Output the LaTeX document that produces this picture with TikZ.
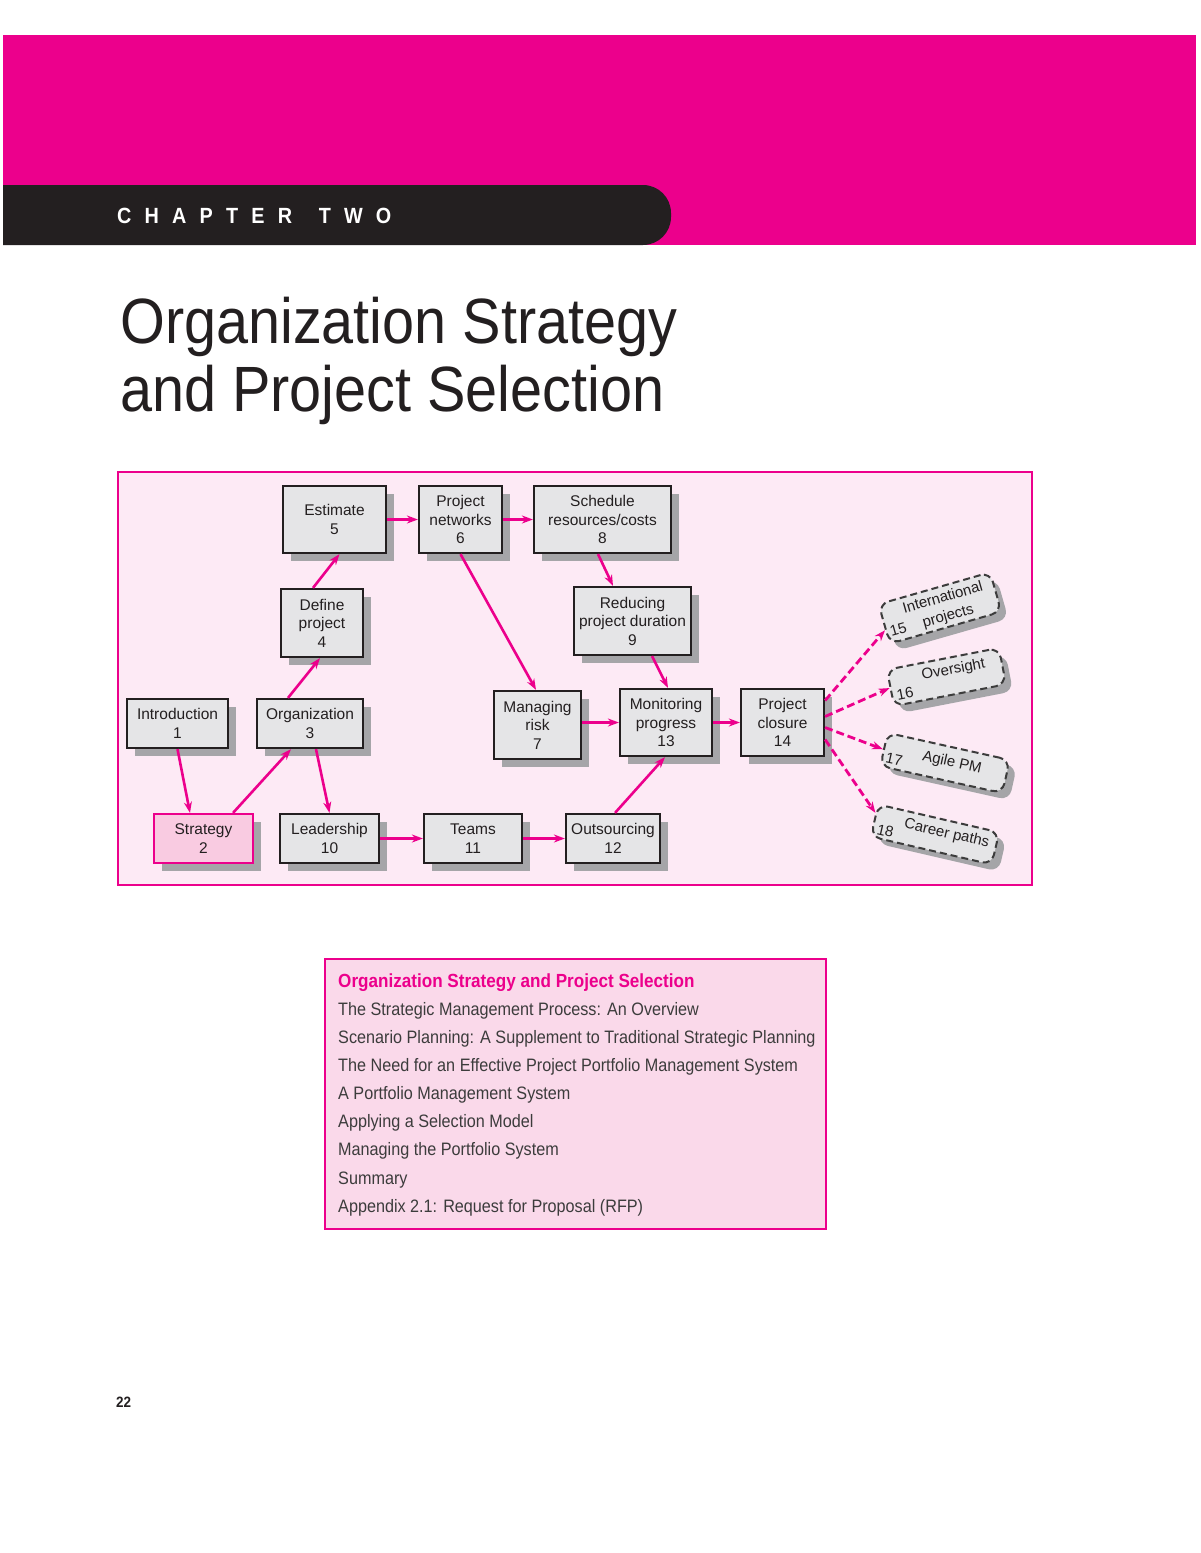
\documentclass[tikz,border=0pt]{standalone}
\usepackage{fontspec}
\setmainfont{Liberation Sans}
\newfontfamily\cond[FakeStretch=0.9]{Liberation Sans}
\usetikzlibrary{arrows.meta,shadows,calc}
\definecolor{mag}{RGB}{236,0,140}
\definecolor{hdrblack}{RGB}{35,31,32}
\definecolor{diagbg}{RGB}{253,234,245}
\definecolor{boxfill}{RGB}{229,229,231}
\definecolor{shadowgray}{RGB}{165,165,168}
\definecolor{strpink}{RGB}{249,203,225}
\definecolor{tocbg}{RGB}{250,217,234}
\definecolor{txt}{RGB}{35,31,32}
\definecolor{tocgray}{RGB}{60,60,60}
\definecolor{dashgray}{RGB}{60,60,60}
\begin{document}
\begin{tikzpicture}[x=1pt,y=-1pt,
  pbox/.style={draw=txt, line width=2.2pt, fill=boxfill, inner sep=0pt, align=center, text=txt,
    font=\fontsize{15.5}{18.5}\selectfont,
    drop shadow={shadow xshift=8pt, shadow yshift=-8pt, fill=shadowgray, opacity=1}},
  dbox/.style={draw=dashgray, line width=2pt, dash pattern=on 7pt off 4pt, fill=boxfill,
    rounded corners=10pt, inner sep=0pt,
    drop shadow={shadow xshift=7pt, shadow yshift=-7pt, fill=shadowgray, opacity=1}},
  dtext/.style={inner sep=0pt, align=center, text=txt, font=\fontsize{15}{19}\selectfont},
  arr/.style={draw=mag, line width=2.6pt, -{Stealth[length=11pt,width=8pt]}},
  darr/.style={draw=mag, line width=2.8pt, dash pattern=on 8pt off 4pt, -{Stealth[length=11pt,width=8pt]}},
  tocline/.style={anchor=base west, inner sep=0pt, text=tocgray, font=\cond\fontsize{18}{18}\selectfont}
]
\useasboundingbox (0,0) rectangle (1200,1553);
\fill[white] (0,0) rectangle (1200,1553);

% header
\fill[mag] (3,35) rectangle (1196,245);
\begin{scope}
  \clip (3,0) rectangle (1200,300);
  \fill[hdrblack, rounded corners=28pt] (-40,185) rectangle (671,245);
\end{scope}
\node[anchor=base west, inner sep=0pt, text=white,
  font=\cond\bfseries\fontsize{22}{22}\selectfont\addfontfeature{LetterSpace=60}] (chap) at (117,223) {CHAPTER\hspace{8pt} TWO};

% title
\node[anchor=base west, inner sep=0pt, text=txt, font=\cond\fontsize{64}{68}\selectfont] (t1) at (120,343) {Organization Strategy};
\node[anchor=base west, inner sep=0pt, text=txt, font=\cond\fontsize{64}{68}\selectfont] (t2) at (120,411) {and Project Selection};

% diagram frame
\draw[mag, line width=2pt, fill=diagbg] (118,472) rectangle (1032,885);

% boxes
\node[pbox, minimum width=101pt, minimum height=49pt] (n1) at (177.5,723.5) {Introduction\\1};
\node[pbox, draw=mag, fill=strpink, minimum width=99pt, minimum height=49pt] (n2) at (203.5,838.5) {Strategy\\2};
\node[pbox, minimum width=106pt, minimum height=49pt] (n3) at (310,723.5) {Organization\\3};
\node[pbox, minimum width=82pt, minimum height=68pt] (n4) at (322,623) {Define\\project\\4};
\node[pbox, minimum width=103pt, minimum height=67pt] (n5) at (334.5,519.5) {Estimate\\5};
\node[pbox, minimum width=83pt, minimum height=67pt] (n6) at (460.5,519.5) {Project\\networks\\6};
\node[pbox, minimum width=87pt, minimum height=68pt] (n7) at (537.5,725) {Managing\\risk\\7};
\node[pbox, minimum width=137pt, minimum height=67pt] (n8) at (602.5,519.5) {Schedule\\resources/costs\\8};
\node[pbox, minimum width=117pt, minimum height=68pt] (n9) at (632.5,621) {Reducing\\project duration\\9};
\node[pbox, minimum width=99pt, minimum height=49pt] (n10) at (329.5,838.5) {Leadership\\10};
\node[pbox, minimum width=98pt, minimum height=49pt] (n11) at (473,838.5) {Teams\\11};
\node[pbox, minimum width=94pt, minimum height=49pt] (n12) at (613,838.5) {Outsourcing\\12};
\node[pbox, minimum width=92pt, minimum height=67pt] (n13) at (666,722.5) {Monitoring\\progress\\13};
\node[pbox, minimum width=83pt, minimum height=67pt] (n14) at (782.5,722.5) {Project\\closure\\14};

% dashed boxes
\begin{scope}[shift={(940,608)}, rotate=16, transform shape]
  \node[dbox, minimum width=116pt, minimum height=41pt] (d15) at (0,0) {};
  \node[dtext] (d15t) at (5.5,1) {International\\\makebox[0pt][r]{15\hspace{17pt}}projects};
\end{scope}
\begin{scope}[shift={(946.5,677)}, rotate=11, transform shape]
  \node[dbox, minimum width=114pt, minimum height=37pt] (d16) at (0,0) {};
  \node[dtext] (d16t) at (8.2,-5.5) {\makebox[0pt][r]{\smash{\raisebox{-15.4pt}{16}}\hspace{11.6pt}}Oversight};
\end{scope}
\begin{scope}[shift={(945,763)}, rotate=-12.5, transform shape]
  \node[dbox, minimum width=125pt, minimum height=34pt] (d17) at (0,0) {};
  \node[dtext] (d17t) at (6.8,-1.5) {\makebox[0pt][r]{\smash{\raisebox{-10.3pt}{17}}\hspace{18.8pt}}Agile PM};
\end{scope}
\begin{scope}[shift={(935,834.5)}, rotate=-13, transform shape]
  \node[dbox, minimum width=124pt, minimum height=33pt] (d18) at (0,0) {};
  \node[dtext] (d18t) at (11.2,-3.3) {\makebox[0pt][r]{\smash{\raisebox{-12.3pt}{18}}\hspace{8.7pt}}Career paths};
\end{scope}

% solid arrows
\draw[arr] (n5.east) -- (n6.west);
\draw[arr] (n6.east) -- (n8.west);
\draw[arr] ([xshift=-9pt]n4.north) -- ([xshift=5pt]n5.south);
\draw[arr] ([xshift=-22pt]n3.north) -- ([xshift=-2pt]n4.south);
\draw[arr] (n1.south) -- ([xshift=-13.5pt]n2.north);
\draw[arr] ([xshift=29.5pt]n2.north) -- ([xshift=-19pt]n3.south);
\draw[arr] ([xshift=6pt]n3.south) -- (n10.north);
\draw[arr] (n10.east) -- (n11.west);
\draw[arr] (n11.east) -- (n12.west);
\draw[arr] ([xshift=2pt]n12.north) -- ([xshift=-1pt]n13.south);
\draw[arr] (n6.south) -- ([xshift=-1.5pt]n7.north);
\draw[arr] ([xshift=-4.5pt]n8.south) -- ([xshift=-19.5pt]n9.north);
\draw[arr] ([xshift=19.5pt]n9.south) -- ([xshift=2pt]n13.north);
\draw[arr] (n7.east |- n13.west) -- (n13.west);
\draw[arr] (n13.east) -- (n14.west);

% dashed arrows
\draw[darr] ([yshift=22pt]n14.east) -- (d15.186);
\draw[darr] ([yshift=6pt]n14.east) -- (d16.west);
\draw[darr] ([yshift=-5pt]n14.east) -- (d17.west);
\draw[darr] ([yshift=-17pt]n14.east) -- (d18.173);

% contents box
\draw[mag, line width=2pt, fill=tocbg] (325,959) rectangle (826,1229);
\node[anchor=base west, inner sep=0pt, text=mag, font=\cond\bfseries\fontsize{19}{19}\selectfont] (th) at (338,987) {Organization Strategy and Project Selection};
\node[tocline] (l1) at (338,1015.7) {The Strategic Management Process: An Overview};
\node[tocline] (l2) at (338,1043.75) {Scenario Planning: A Supplement to Traditional Strategic Planning};
\node[tocline] (l3) at (338,1071.8) {The Need for an Effective Project Portfolio Management System};
\node[tocline] (l4) at (338,1099.85) {A Portfolio Management System};
\node[tocline] (l5) at (338,1127.9) {Applying a Selection Model};
\node[tocline] (l6) at (338,1155.95) {Managing the Portfolio System};
\node[tocline] (l7) at (338,1184) {Summary};
\node[tocline] (l8) at (338,1212.05) {Appendix 2.1: Request for Proposal (RFP)};

% page number
\node[anchor=base west, inner sep=0pt, text=txt, font=\cond\bfseries\fontsize{15}{15}\selectfont] (pg) at (116,1407) {22};
\end{tikzpicture}
\end{document}
